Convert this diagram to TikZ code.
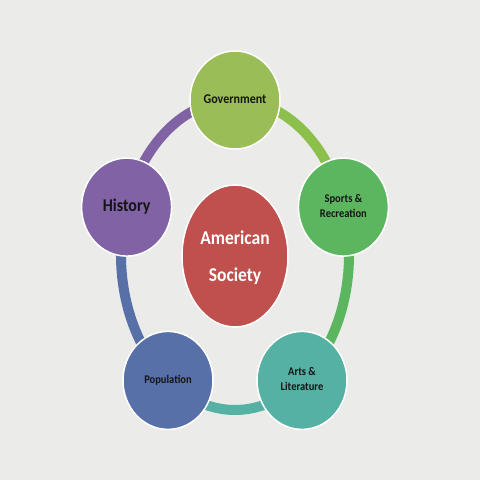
\documentclass[tikz,border=0pt]{standalone}
\usepackage{fontspec}
\usepackage{graphicx}
\setmainfont{Carlito}
\usetikzlibrary{shapes.geometric,calc}
\definecolor{bg}{HTML}{EBEBE9}
\definecolor{govc}{HTML}{9BBD57}
\definecolor{govarc}{HTML}{8DBF4C}
\definecolor{sportc}{HTML}{5CB660}
\definecolor{artc}{HTML}{55B1A3}
\definecolor{popc}{HTML}{5870A8}
\definecolor{histc}{HTML}{8062A5}
\definecolor{redc}{HTML}{C0504D}
\definecolor{txt}{HTML}{151515}
\newcommand\vstretch[1]{\scalebox{1}[1.12]{\begin{tabular}{@{}c@{}}#1\end{tabular}}}
\tikzset{
  bubble/.style={ellipse, draw=white, line width=1.5pt, minimum width=90pt, minimum height=98pt, inner sep=0pt, align=center, text=txt, font=\bfseries},
  ring/.style={line width=10pt},
}
\begin{document}
\begin{tikzpicture}[x=1pt,y=1pt]
\useasboundingbox (0,0) rectangle (480,480);
\fill[bg] (0,0) rectangle (480,480);
\coordinate (C) at (235,225);
% node positions on the ring
\coordinate (pg) at ($(C)+(90:114 and 155)$);
\coordinate (ps) at ($(C)+(18:114 and 155)$);
\coordinate (pa) at ($(C)+(-54:114 and 155)$);
\coordinate (pp) at ($(C)+(-126:114 and 155)$);
\coordinate (ph) at ($(C)+(162:114 and 155)$);
% ring arcs
\draw[ring, govarc] (pg) arc[start angle=90, end angle=18, x radius=114, y radius=155];
\draw[ring, sportc] (ps) arc[start angle=18, end angle=-54, x radius=114, y radius=155];
\draw[ring, artc] (pa) arc[start angle=-54, end angle=-126, x radius=114, y radius=155];
\draw[ring, popc] (pp) arc[start angle=-126, end angle=-198, x radius=114, y radius=155];
\draw[ring, histc] (ph) arc[start angle=162, end angle=90, x radius=114, y radius=155];
% bubbles
\node[bubble, fill=govc, font=\bfseries\fontsize{12}{14}\selectfont] (gov) at (pg) {\vstretch{Government}};
\node[bubble, fill=sportc, font=\bfseries\fontsize{10.5}{13}\selectfont] (sport) at (ps) {\vstretch{Sports \&\\Recreation}};
\node[bubble, fill=artc, font=\bfseries\fontsize{10.5}{13.5}\selectfont] (art) at (pa) {\vstretch{Arts \&\\Literature}};
\node[bubble, fill=popc, font=\bfseries\fontsize{10.5}{13}\selectfont] (pop) at (pp) {\vstretch{Population}};
\node[bubble, fill=histc, font=\bfseries\fontsize{16}{18}\selectfont] (hist) at (ph) {\vstretch{History}};
\node[ellipse, draw=white, line width=1.5pt, fill=redc, minimum width=106pt, minimum height=142pt, inner sep=0pt, align=center, text=white, font=\bfseries\fontsize{17.5}{33}\selectfont] (center) at (235,224) {\vstretch{American\\Society}};
\end{tikzpicture}
\end{document}
